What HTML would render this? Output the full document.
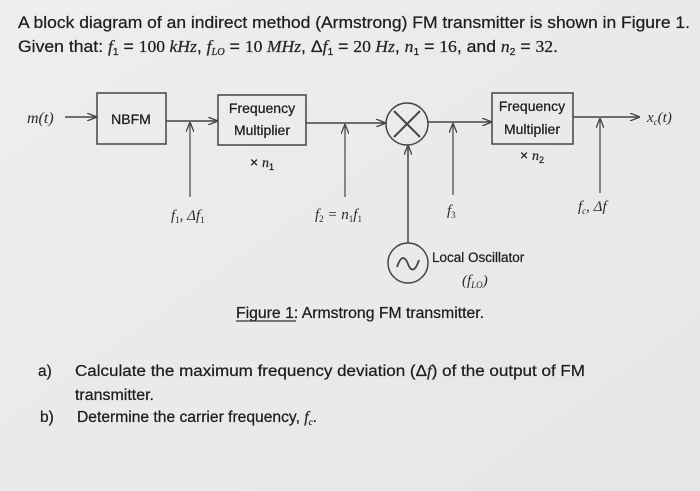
<!DOCTYPE html>
<html><head><meta charset="utf-8"><style>
html,body{margin:0;padding:0;background:#ebebeb;}
svg{display:block;}
.t{font-family:"Liberation Sans",sans-serif;fill:#1e1e1e;stroke:#1e1e1e;stroke-width:0.25;}
.m{font-family:"Liberation Serif",serif;font-style:italic;fill:#2a2a2a;}
</style></head><body>
<svg width="700" height="491" viewBox="0 0 700 491" xmlns="http://www.w3.org/2000/svg">
<defs>
<linearGradient id="bg" x1="0" y1="0" x2="1" y2="1"><stop offset="0" stop-color="#eeeeee"/><stop offset="1" stop-color="#e6e6e6"/></linearGradient>
<marker id="a" markerWidth="10" markerHeight="8" refX="9" refY="4" orient="auto" markerUnits="userSpaceOnUse"><path d="M0,0 L10,4 L0,8" fill="none" stroke="#444" stroke-width="1.3"/></marker>
</defs>
<rect width="700" height="491" fill="url(#bg)"/>
<text class="t" x="18" y="28" font-size="17" textLength="672" lengthAdjust="spacingAndGlyphs">A block diagram of an indirect method (Armstrong) FM transmitter is shown in Figure 1.</text>
<text class="t" x="18" y="52" font-size="17" textLength="540" lengthAdjust="spacingAndGlyphs">Given that: <tspan class="m">f</tspan><tspan font-size="10" dy="3">1</tspan><tspan dy="-3"> = </tspan><tspan font-family="Liberation Serif">100 </tspan><tspan class="m">kHz</tspan>, <tspan class="m">f</tspan><tspan font-size="10" class="m" dy="3">LO</tspan><tspan dy="-3"> = </tspan><tspan font-family="Liberation Serif">10 </tspan><tspan class="m">MHz</tspan>, Δ<tspan class="m">f</tspan><tspan font-size="10" dy="3">1</tspan><tspan dy="-3"> = </tspan><tspan font-family="Liberation Serif">20 </tspan><tspan class="m">Hz</tspan>, <tspan class="m">n</tspan><tspan font-size="10" dy="3">1</tspan><tspan dy="-3"> = </tspan><tspan font-family="Liberation Serif">16</tspan>, and <tspan class="m">n</tspan><tspan font-size="10" dy="3">2</tspan><tspan dy="-3"> = </tspan><tspan font-family="Liberation Serif">32</tspan>.</text>

<g stroke="#444" stroke-width="1.5" fill="none">
<rect x="97" y="93" width="69" height="51"/>
<rect x="218" y="95" width="88" height="50"/>
<rect x="492" y="93" width="81" height="51"/>
<circle cx="407" cy="124" r="21"/>
<path d="M394,111 L420,137 M420,111 L394,137" stroke-width="2"/>
<circle cx="408" cy="263" r="20"/>
<path d="M397,267 C401,255 405,256 408,264 C411,272 415,272 419,260" stroke-width="1.8"/>
<line x1="65" y1="117" x2="96" y2="117" marker-end="url(#a)"/>
<line x1="166" y1="121" x2="217" y2="121" marker-end="url(#a)"/>
<line x1="306" y1="123" x2="385" y2="123" marker-end="url(#a)"/>
<line x1="428" y1="122" x2="491" y2="122" marker-end="url(#a)"/>
<line x1="573" y1="117" x2="639" y2="117" marker-end="url(#a)"/>
<line x1="190" y1="197" x2="190" y2="123" marker-end="url(#a)" stroke-width="1.2"/>
<line x1="345" y1="197" x2="345" y2="125" marker-end="url(#a)" stroke-width="1.2"/>
<line x1="453" y1="195" x2="453" y2="124" marker-end="url(#a)" stroke-width="1.2"/>
<line x1="600" y1="193" x2="600" y2="119" marker-end="url(#a)" stroke-width="1.2"/>
<line x1="408" y1="243" x2="408" y2="146" marker-end="url(#a)"/>
</g>

<text class="m" x="27" y="123" font-size="16">m(t)</text>
<text class="t" x="131" y="124" font-size="14" text-anchor="middle">NBFM</text>
<text class="t" x="262" y="113" font-size="14" text-anchor="middle">Frequency</text>
<text class="t" x="262" y="135" font-size="14" text-anchor="middle">Multiplier</text>
<text class="t" x="262" y="167" font-size="14" text-anchor="middle">× <tspan class="m">n</tspan><tspan font-size="9" dy="3">1</tspan></text>
<text class="t" x="532" y="111" font-size="14" text-anchor="middle">Frequency</text>
<text class="t" x="532" y="134" font-size="14" text-anchor="middle">Multiplier</text>
<text class="t" x="532" y="160" font-size="14" text-anchor="middle">× <tspan class="m">n</tspan><tspan font-size="9" dy="3">2</tspan></text>
<text class="m" x="647" y="122" font-size="15">x<tspan font-size="9" dy="3">c</tspan><tspan dy="-3">(t)</tspan></text>
<text class="m" x="171" y="220" font-size="15">f<tspan font-size="9" font-style="normal" dy="3">1</tspan><tspan dy="-3">, Δf</tspan><tspan font-size="9" font-style="normal" dy="3">1</tspan></text>
<text class="m" x="315" y="219" font-size="15">f<tspan font-size="9" font-style="normal" dy="3">2</tspan><tspan dy="-3"> = n</tspan><tspan font-size="9" font-style="normal" dy="3">1</tspan><tspan dy="-3">f</tspan><tspan font-size="9" font-style="normal" dy="3">1</tspan></text>
<text class="m" x="447" y="215" font-size="15">f<tspan font-size="9" font-style="normal" dy="3">3</tspan></text>
<text class="m" x="578" y="211" font-size="15">f<tspan font-size="9" dy="3">c</tspan><tspan dy="-3">, Δf</tspan></text>
<text class="t" x="432" y="262" font-size="13.5">Local Oscillator</text>
<text class="m" x="462" y="285" font-size="15">(f<tspan font-size="9" dy="3">LO</tspan><tspan dy="-3">)</tspan></text>

<text class="t" x="236" y="318" font-size="15.5" textLength="248" lengthAdjust="spacingAndGlyphs">Figure 1: Armstrong FM transmitter.</text>
<line x1="236" y1="321" x2="296" y2="321" stroke="#333" stroke-width="1.2"/>

<text class="t" x="38" y="376" font-size="15.5">a)</text>
<text class="t" x="75" y="376" font-size="15.5" textLength="510" lengthAdjust="spacingAndGlyphs">Calculate the maximum frequency deviation (Δ<tspan class="m">f</tspan>) of the output of FM</text>
<text class="t" x="75" y="400" font-size="15.5" textLength="79" lengthAdjust="spacingAndGlyphs">transmitter.</text>
<text class="t" x="40" y="422" font-size="15.5">b)</text>
<text class="t" x="77" y="422" font-size="15.5" textLength="240" lengthAdjust="spacingAndGlyphs">Determine the carrier frequency, <tspan class="m">f</tspan><tspan font-size="9" class="m" dy="3">c</tspan><tspan dy="-3">.</tspan></text>
</svg>
</body></html>
